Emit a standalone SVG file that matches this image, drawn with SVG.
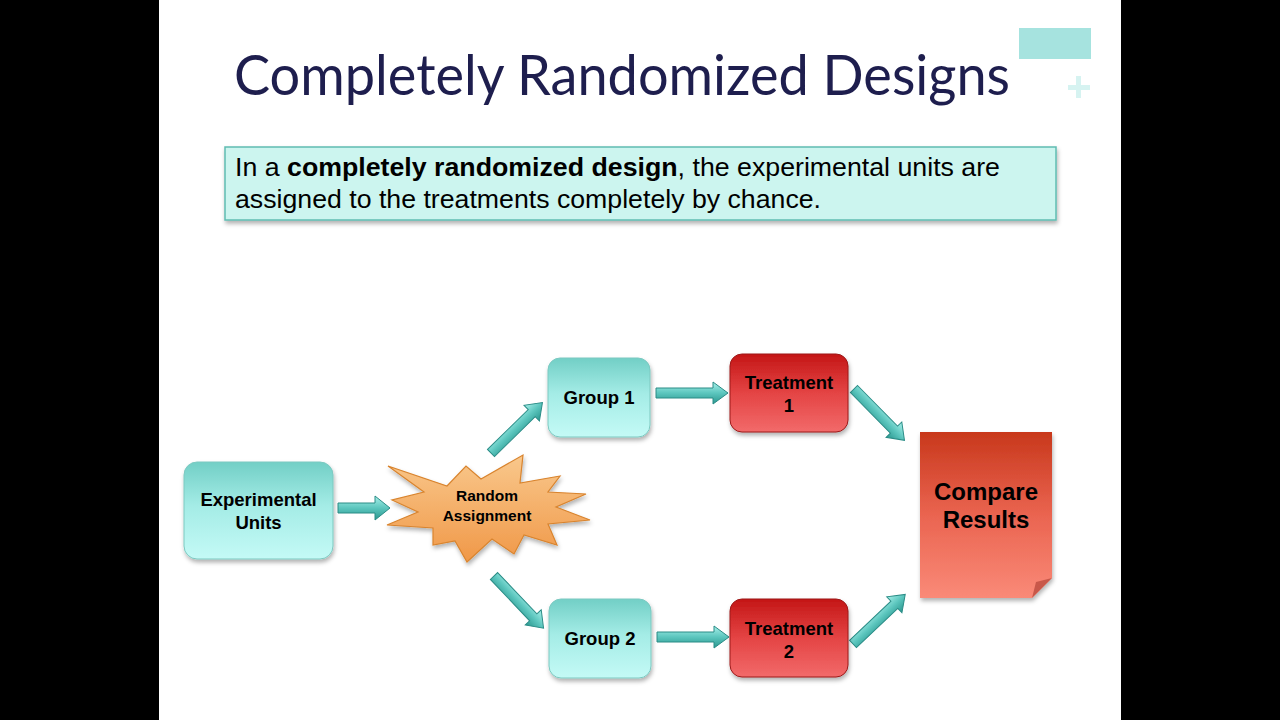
<svg xmlns="http://www.w3.org/2000/svg" width="1280" height="720" viewBox="0 0 1280 720">
<defs>
<style>
.lbl{font-family:"Liberation Sans",Arial,sans-serif;font-weight:bold;fill:#000;text-anchor:middle}
.def{font-family:"Liberation Sans",Arial,sans-serif;font-size:25px;fill:#000}
.arrow{fill:url(#gArrow);stroke:#2a8c86;stroke-width:1}
.teal{fill:url(#gTeal);stroke:#7cc9c1;stroke-width:1}
.red{fill:url(#gRed);stroke:#9c1a1a;stroke-width:1}
</style>
<linearGradient id="gTeal" x1="0" y1="0" x2="0" y2="1">
<stop offset="0" stop-color="#72cfc6"/>
<stop offset="0.45" stop-color="#a4ece6"/>
<stop offset="1" stop-color="#c4faf6"/>
</linearGradient>
<linearGradient id="gRed" x1="0" y1="0" x2="0" y2="1">
<stop offset="0" stop-color="#c41616"/>
<stop offset="0.5" stop-color="#e44444"/>
<stop offset="1" stop-color="#f26a6a"/>
</linearGradient>
<linearGradient id="gCompare" x1="0" y1="0" x2="0" y2="1">
<stop offset="0" stop-color="#c8381c"/>
<stop offset="0.5" stop-color="#ea6450"/>
<stop offset="1" stop-color="#fa8a78"/>
</linearGradient>
<linearGradient id="gStar" x1="0" y1="0" x2="0" y2="1">
<stop offset="0" stop-color="#f9c88c"/>
<stop offset="1" stop-color="#f09848"/>
</linearGradient>
<linearGradient id="gArrow" x1="0" y1="0" x2="0" y2="1">
<stop offset="0" stop-color="#a8f0ea"/>
<stop offset="0.5" stop-color="#5cc6be"/>
<stop offset="1" stop-color="#2a968e"/>
</linearGradient>
<filter id="shadow" x="-20%" y="-20%" width="140%" height="150%">
<feDropShadow dx="1" dy="3" stdDeviation="2" flood-color="#000" flood-opacity="0.3"/>
</filter>
<path id="arrowLong" class="arrow" d="M0,-5 H57 V-11 L72,0 L57,11 V5 H0 Z"/>
<path id="arrowShort" class="arrow" d="M0,-5 H37 V-12 L52,0 L37,12 V5 H0 Z"/>
</defs>

<rect x="0" y="0" width="1280" height="720" fill="#000"/>
<rect x="159" y="0" width="962" height="720" fill="#fff"/>

<g id="decoration">
<rect x="1019" y="28" width="72" height="31" fill="#a6e3df"/>
<rect x="1068" y="85" width="22" height="5" fill="#d6f3f1"/>
<rect x="1076" y="76" width="5" height="22" fill="#d6f3f1"/>
</g>

<g id="title">
<text x="234" y="95" font-family="Lato,'Open Sans',sans-serif" font-size="56" fill="#1e1e4e" textLength="776" lengthAdjust="spacingAndGlyphs">Completely Randomized Designs</text>
</g>

<g id="definition">
<rect x="225" y="147" width="831" height="73" fill="#ccf5ef" stroke="#5fbcb2" stroke-width="1.5" filter="url(#shadow)"/>
<text class="def" x="235" y="176" textLength="765" lengthAdjust="spacingAndGlyphs">In a <tspan font-weight="bold">completely randomized design</tspan>, the experimental units are</text>
<text class="def" x="235" y="208" textLength="586" lengthAdjust="spacingAndGlyphs">assigned to the treatments completely by chance.</text>
</g>

<g id="connectors">
<use href="#arrowShort" transform="translate(338,508)"/>
<use href="#arrowLong" transform="translate(491,453) rotate(-44.4)"/>
<use href="#arrowLong" transform="translate(494,576) rotate(46.5)"/>
<use href="#arrowLong" transform="translate(656,393)"/>
<use href="#arrowLong" transform="translate(657,637)"/>
<use href="#arrowLong" transform="translate(854,389) rotate(45.5)"/>
<use href="#arrowLong" transform="translate(853,644) rotate(-43.5)"/>
</g>

<g id="experimental-units">
<rect class="teal" x="184" y="462" width="149" height="97" rx="13" filter="url(#shadow)"/>
<text class="lbl" x="258.5" y="506" font-size="18.5">Experimental</text>
<text class="lbl" x="258.5" y="529" font-size="18.5">Units</text>
</g>

<g id="random-assignment">
<polygon fill="url(#gStar)" stroke="#d9842e" stroke-width="1.2" filter="url(#shadow)" points="388,466 447,486 466,466 481,479 523,455 520,483 560,476 548,492 586,494 556,507 590,520 548,524 557,545 524,535 514,554 492,539 467,562 455,541 433,545 433,528 387,525 418,512 392,500 424,492"/>
<text class="lbl" x="487" y="501" font-size="15.5">Random</text>
<text class="lbl" x="487" y="521" font-size="15.5">Assignment</text>
</g>

<g id="group-1">
<rect class="teal" x="548" y="358" width="102" height="79" rx="12" filter="url(#shadow)"/>
<text class="lbl" x="599" y="404" font-size="18.5">Group 1</text>
</g>

<g id="group-2">
<rect class="teal" x="549" y="599" width="102" height="79" rx="12" filter="url(#shadow)"/>
<text class="lbl" x="600" y="645" font-size="18.5">Group 2</text>
</g>

<g id="treatment-1">
<rect class="red" x="730" y="354" width="118" height="78" rx="12" filter="url(#shadow)"/>
<text class="lbl" x="789" y="389" font-size="18.5">Treatment</text>
<text class="lbl" x="789" y="412" font-size="18.5">1</text>
</g>

<g id="treatment-2">
<rect class="red" x="730" y="599" width="118" height="78" rx="12" filter="url(#shadow)"/>
<text class="lbl" x="789" y="635" font-size="18.5">Treatment</text>
<text class="lbl" x="789" y="658" font-size="18.5">2</text>
</g>

<g id="compare-results">
<path d="M920,432 H1052 V578 L1032,598 H920 Z" fill="url(#gCompare)" filter="url(#shadow)"/>
<path d="M1032,598 L1036,582 L1052,578 Z" fill="#c8584a"/>
<text class="lbl" x="986" y="500" font-size="24">Compare</text>
<text class="lbl" x="986" y="528" font-size="24">Results</text>
</g>
</svg>
